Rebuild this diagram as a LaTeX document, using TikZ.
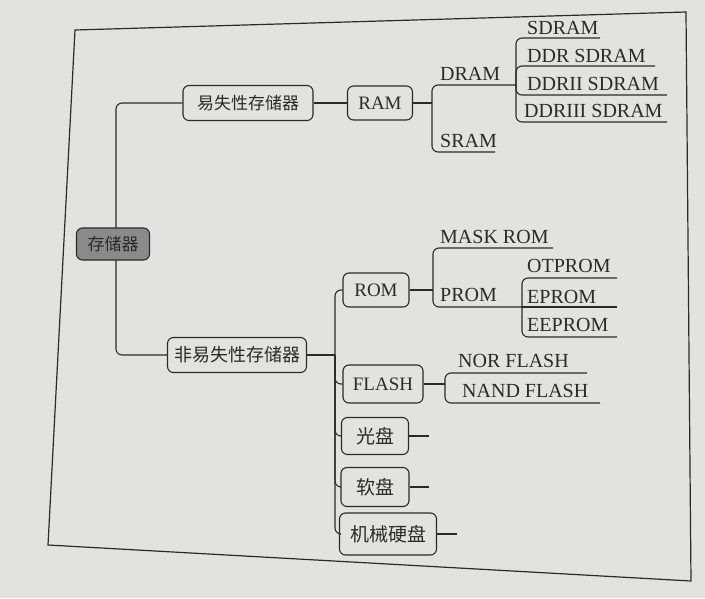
\documentclass[tikz,border=0pt]{standalone}
\usepackage{fontspec}
\setmainfont{Liberation Serif}
\newfontfamily\cjk{Noto Sans CJK SC}
\usetikzlibrary{backgrounds}
\definecolor{paper}{HTML}{E2E2E0}
\definecolor{ink}{HTML}{2A2A2A}
\definecolor{rootfill}{HTML}{8A8A8A}
\begin{document}
\begin{tikzpicture}[x=1pt,y=-1pt,
  box/.style={draw=ink, line width=1.1pt, rounded corners=6pt, text=ink, inner sep=0pt, font=\fontsize{19}{22}\selectfont},
  cbox/.style={box, font=\cjk\fontsize{17}{20}\selectfont},
  bigcbox/.style={box, font=\cjk\fontsize{19}{22}\selectfont},
  leaf/.style={anchor=base west, inner sep=0pt, text=ink, font=\fontsize{20}{23}\selectfont},
  link/.style={draw=ink, line width=1.1pt, rounded corners=6pt},
  frame/.style={draw=ink, line width=1.2pt},
]
\useasboundingbox (0,0) rectangle (705,598);

% boxes
\node[cbox, fill=rootfill, minimum width=73pt, minimum height=32pt] (root) at (113,244) {存储器};
\node[cbox, minimum width=130pt, minimum height=35pt] (vol) at (248,103) {易失性存储器};
\node[box, minimum width=65pt, minimum height=34pt] (ram) at (380,103) {RAM};
\node[cbox, font=\cjk\fontsize{18}{21}\selectfont, minimum width=139pt, minimum height=35pt] (nvol) at (237,355) {非易失性存储器};
\node[box, minimum width=66pt, minimum height=34pt] (rom) at (376,290) {ROM};
\node[box, minimum width=80pt, minimum height=38pt] (flash) at (383,384) {FLASH};
\node[bigcbox, minimum width=67pt, minimum height=37pt] (cd) at (375,436) {光盘};
\node[bigcbox, minimum width=68pt, minimum height=39pt] (fd) at (375,487) {软盘};
\node[bigcbox, minimum width=97pt, minimum height=42pt] (hd) at (388,534) {机械硬盘};

% leaf labels
\node[leaf] (dram) at (440,80) {DRAM};
\node[leaf] (sram) at (440,147) {SRAM};
\node[leaf] (sdram) at (527,34) {SDRAM};
\node[leaf] (ddr) at (527,62) {DDR SDRAM};
\node[leaf] (ddr2) at (527,90) {DDRII SDRAM};
\node[leaf] (ddr3) at (524,117) {DDRIII SDRAM};
\node[leaf] (mask) at (440,243) {MASK ROM};
\node[leaf] (prom) at (440,301) {PROM};
\node[leaf] (otp) at (527,272) {OTPROM};
\node[leaf] (ep) at (527,303) {EPROM};
\node[leaf] (eep) at (527,331) {EEPROM};
\node[leaf] (nor) at (458,367) {NOR FLASH};
\node[leaf] (nand) at (462,397) {NAND FLASH};

% junctions and line ends
\coordinate (tTop) at (116,103);
\coordinate (tBot) at (116,355);
\coordinate (j1) at (432,103);
\coordinate (j2) at (516,85);
\coordinate (sramE) at (495,152);
\coordinate (sdramE) at (600,38);
\coordinate (ddrE) at (655,66);
\coordinate (ddr2E) at (667,95);
\coordinate (ddr3E) at (667,122);
\coordinate (j3) at (335,355);
\coordinate (j4) at (433,290);
\coordinate (maskE) at (553,248);
\coordinate (j5) at (522,307);
\coordinate (otpE) at (617,278);
\coordinate (epE) at (617,307);
\coordinate (eepE) at (617,337);
\coordinate (j6) at (445,384);
\coordinate (norE) at (587,373);
\coordinate (nandE) at (600,403);
\coordinate (cdE) at (429,436);
\coordinate (fdE) at (429,487);
\coordinate (hdE) at (457,534);

\begin{scope}[on background layer]
\fill[paper] (0,0) rectangle (705,598);
\draw[frame] (75,30) -- (686,12) -- (691,581) -- (48,545) -- cycle;
% root trunk
\draw[link] (vol.west) -- (tTop) -- (tBot) -- (nvol.west);
% volatile
\draw[link] (vol.east) -- (ram.west);
\draw[link] (ram.east) -- (j1);
\draw[link] (j1) |- (j2);
\draw[link] (j1) |- (sramE);
\draw[link] (j2) |- (sdramE);
\draw[link] (j2) |- (ddrE);
\draw[link] (j2) |- (ddr2E);
\draw[link] (j2) |- (ddr3E);
% non-volatile
\draw[link] (nvol.east) -- (j3);
\draw[link] (j3) |- (rom.west);
\draw[link] (j3) |- (flash.west);
\draw[link] (j3) |- (cd.west);
\draw[link] (j3) |- (fd.west);
\draw[link] (j3) |- (hd.west);
\draw[link] (rom.east) -- (j4);
\draw[link] (j4) |- (maskE);
\draw[link] (j4) |- (j5);
\draw[link] (j5) |- (otpE);
\draw[link] (j5) -- (epE);
\draw[link] (j5) |- (eepE);
\draw[link] (flash.east) -- (j6);
\draw[link] (j6) |- (norE);
\draw[link] (j6) |- (nandE);
\draw[link] (cd.east) -- (cdE);
\draw[link] (fd.east) -- (fdE);
\draw[link] (hd.east) -- (hdE);
\end{scope}
\end{tikzpicture}
\end{document}
